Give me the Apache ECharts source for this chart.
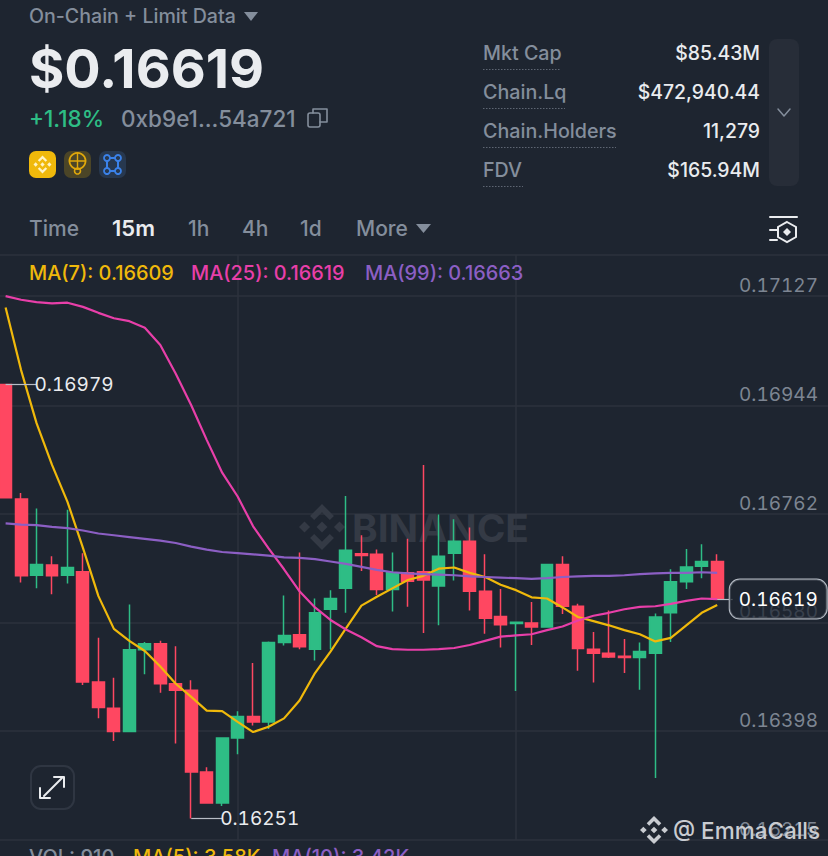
<!DOCTYPE html>
<html><head><meta charset="utf-8">
<style>html,body{margin:0;padding:0;background:#1e2530;overflow:hidden}#c{width:828px;height:856px}#c text{font-feature-settings:"tnum" 1;font-variant-numeric:tabular-nums}</style>
<script src="https://cdn.jsdelivr.net/npm/echarts@6/dist/echarts.min.js"></script>
</head><body><div id="c"></div>
<script>
const opens=[0.16979,0.16787,0.16659,0.16676,0.16659,0.16665,0.16480,0.16436,0.16397,0.16534,0.16544,0.16477,0.16466,0.16329,0.16277,0.16386,0.16422,0.16413,0.16546,0.16559,0.16535,0.16602,0.16637,0.16695,0.16694,0.16635,0.16663,0.16665,0.16641,0.16696,0.16716,0.16632,0.16590,0.16578,0.16579,0.16572,0.16677,0.16607,0.16535,0.16528,0.16523,0.16521,0.16528,0.16596,0.16648,0.16674,0.16682];
const closes=[0.16789,0.16658,0.16677,0.16658,0.16672,0.16480,0.16437,0.16397,0.16534,0.16544,0.16477,0.16466,0.16329,0.16277,0.16386,0.16422,0.16413,0.16546,0.16558,0.16539,0.16596,0.16620,0.16701,0.16692,0.16635,0.16663,0.16649,0.16651,0.16691,0.16716,0.16632,0.16587,0.16576,0.16580,0.16572,0.16677,0.16607,0.16536,0.16528,0.16522,0.16521,0.16531,0.16589,0.16648,0.16673,0.16682,0.16619];
const lows=[0.16789,0.16647,0.16637,0.16627,0.16645,0.16475,0.16419,0.16381,0.16397,0.16493,0.16462,0.16377,0.16251,0.16277,0.16272,0.16359,0.16407,0.16401,0.16541,0.16535,0.16516,0.16535,0.16596,0.16666,0.16626,0.16598,0.16606,0.16562,0.16575,0.16650,0.16600,0.16561,0.16538,0.16465,0.16542,0.16572,0.16594,0.16499,0.16479,0.16520,0.16495,0.16467,0.16319,0.16547,0.16636,0.16654,0.16619];
const highs=[0.16979,0.16797,0.16771,0.16691,0.16769,0.16696,0.16554,0.16487,0.16610,0.16547,0.16549,0.16540,0.16483,0.16337,0.16386,0.16431,0.16512,0.16548,0.16625,0.16697,0.16620,0.16634,0.16792,0.16726,0.16702,0.16697,0.16720,0.16844,0.16761,0.16753,0.16739,0.16694,0.16636,0.16580,0.16614,0.16677,0.16691,0.16611,0.16564,0.16600,0.16552,0.16546,0.16595,0.16669,0.16703,0.16711,0.16694];
const ma7=[0.17108,0.17003,0.16914,0.16844,0.16782,0.16705,0.16624,0.16569,0.16549,0.16532,0.16506,0.16477,0.16455,0.16432,0.16431,0.16413,0.16396,0.16405,0.16419,0.16449,0.16495,0.16531,0.16570,0.16608,0.16623,0.16637,0.16651,0.16658,0.16670,0.16672,0.16663,0.16656,0.16643,0.16634,0.16622,0.16620,0.16605,0.16589,0.16582,0.16575,0.16567,0.16560,0.16548,0.16554,0.16575,0.16596,0.16609];
const ma25=[0.17127,0.17121,0.17117,0.17115,0.17116,0.17109,0.17099,0.17090,0.17085,0.17074,0.17045,0.16997,0.16944,0.16886,0.16831,0.16791,0.16741,0.16704,0.16669,0.16632,0.16605,0.16584,0.16568,0.16555,0.16540,0.16535,0.16534,0.16534,0.16535,0.16537,0.16542,0.16549,0.16556,0.16558,0.16560,0.16567,0.16573,0.16583,0.16591,0.16596,0.16602,0.16606,0.16607,0.16611,0.16616,0.16620,0.16619];
const ma99=[0.16746,0.16744,0.16743,0.16740,0.16738,0.16734,0.16729,0.16726,0.16723,0.16720,0.16717,0.16713,0.16707,0.16702,0.16698,0.16696,0.16694,0.16692,0.16689,0.16688,0.16686,0.16682,0.16678,0.16673,0.16668,0.16664,0.16662,0.16661,0.16660,0.16659,0.16657,0.16656,0.16655,0.16654,0.16653,0.16654,0.16656,0.16657,0.16658,0.16658,0.16659,0.16661,0.16662,0.16663,0.16663,0.16664,0.16663];
const yTicks=[0.16215,0.16398,0.16580,0.16762,0.16944,0.17127];
const verticalLines=[15,33];
const highMark={i:0,end:2,value:0.16979};
const lowMark={i:12,end:14,value:0.16251};
const lastPrice=0.16619;
const stats=[['Mkt Cap','$85.43M',53,77],['Chain.Lq','$472,940.44',92,82],['Chain.Holders','11,279',131,133],['FDV','$165.94M',170,40]];
const tabs=[['Time',29,'#848e9c',500,21],['15m',112,'#eaecef',600,22],['1h',188,'#848e9c',500,21],['4h',242,'#848e9c',500,21],['1d',300,'#848e9c',500,21],['More',356,'#848e9c',500,21]];

const FONT='Inter';
const GRAY='#848e9c',WHITE='#eaecef',RED='#ff4761',GREEN='#2ebd85',YEL='#f0b90b',PINK='#e83fa9',PUR='#8c5fc4',LINE='#2c323d';
function T(x,y,s,fill,size,weight,align,extra){return Object.assign({type:'text',x:x,y:y,z:50,silent:true,style:{text:s,fill:fill,font:(weight||400)+' '+size+'px '+FONT,textAlign:align||'left',textVerticalAlign:'middle'}},extra||{});}
function P(points,fill,z){return {type:'polygon',z:z||50,silent:true,shape:{points:points},style:{fill:fill}};}
function PL(points,stroke,w,z){return {type:'polyline',z:z||50,silent:true,shape:{points:points},style:{stroke:stroke,lineWidth:w,fill:null,lineCap:'round',lineJoin:'round'}};}
function R(x,y,w,h,r,fill,stroke,lw,z){return {type:'rect',z:z||50,silent:true,shape:{x:x,y:y,width:w,height:h,r:r},style:{fill:fill||null,stroke:stroke||null,lineWidth:lw||0}};}
function logo(cx,cy,s,c,z){
  const m=(pts)=>pts.map(p=>[cx+p[0]*s,cy+p[1]*s]);
  const d=(x,y,r)=>m([[x,y-r],[x+r,y],[x,y+r],[x-r,y]]);
  const top=[[0,-1],[.52,-.48],[.34,-.30],[0,-.64],[-.34,-.30],[-.52,-.48]];
  return [P(d(0,0,.24),c,z),P(d(-.76,0,.24),c,z),P(d(.76,0,.24),c,z),P(m(top),c,z),P(m(top.map(p=>[p[0],-p[1]])),c,z)];
}
const g=[];
g.push(T(29,16,'On-Chain + Limit Data',GRAY,19.6,500));
g.push(P([[244,12],[258,12],[251,21]],GRAY));
g.push(T(29,68,'$0.16619','#eaecef',54,700));
g.push(T(29,118,'+1.18%',GREEN,22.5,500));
g.push(T(121,118,'0xb9e1...54a721',GRAY,22.5,500));
g.push(R(308,113,12,14,2,null,GRAY,1.6),PL([[313,113],[313,109],[327,109],[327,122],[320,122]],GRAY,1.6));
g.push(R(29,151,27,27,7,'#f0b90b'),R(64,151,27,27,7,'#4b4527'),R(99,151,27,27,7,'#27384f'));
g.push(...logo(42.5,164.5,9,'#fff3c4'));
g.push({type:'circle',z:50,silent:true,shape:{cx:77.5,cy:161,r:8},style:{fill:null,stroke:'#e0a80b',lineWidth:1.8}},PL([[69.5,161],[85.5,161]],'#e0a80b',1.6),PL([[77.5,153],[77.5,169]],'#e0a80b',1.4),{type:'circle',z:50,silent:true,shape:{cx:77.5,cy:171,r:3},style:{fill:null,stroke:'#e0a80b',lineWidth:1.6}});
g.push(R(107,158,11,13,2,null,'#3b82ea',2));
[[107,158],[118,158],[107,171],[118,171]].forEach(p=>g.push({type:'circle',z:50,silent:true,shape:{cx:p[0],cy:p[1],r:3},style:{fill:'#27384f',stroke:'#3b82ea',lineWidth:1.8}}));
stats.forEach(s=>{
  g.push(T(483,s[2]-0.5,s[0],GRAY,19.7,500));
  g.push(T(760,s[2]-0.5,s[1],WHITE,19.4,500,'right'));
  g.push({type:'line',z:50,silent:true,shape:{x1:483,y1:s[2]+16.5,x2:483+s[3],y2:s[2]+16.5},style:{stroke:'#5e6673',lineWidth:1,lineDash:[1.5,1.5]}});
});
g.push(R(769,39,30,147,8,'#272d38'));
g.push(PL([[778,109],[784,116],[790,109]],GRAY,1.5));
tabs.forEach(t=>g.push(T(t[1],228,t[0],t[2],t[4],t[3])));
g.push(P([[416,224],[431,224],[423.5,233]],GRAY));
g.push(PL([[770,217],[797,217]],WHITE,2),PL([[770,230],[777,230]],WHITE,2),PL([[770,240],[777,240]],WHITE,2));
g.push({type:'polygon',z:50,silent:true,shape:{points:[[787,222],[796,227],[796,237],[787,242],[778,237],[778,227]]},style:{fill:'none',stroke:WHITE,lineWidth:2}});
g.push(P([[787,228],[791,232],[787,236],[783,232]],WHITE));
g.push({type:'line',z:1,silent:true,shape:{x1:0,y1:255,x2:828,y2:255},style:{stroke:LINE,lineWidth:1.5}});
g.push(T(29,273,'MA(7): 0.16609',YEL,19.9,500),T(191,273,'MA(25): 0.16619',PINK,19.9,500),T(365,273,'MA(99): 0.16663',PUR,19.9,500));
g.push(...logo(322,527,23,'#343a45',1));
g.push(T(352,527,'BINANCE','#343a45',38.8,700,'left',{z:1}));
g.push(R(31,766,43,43,10,'#1e2530','#2f3642',2,40));
g.push(PL([[44,796],[62,778]],WHITE,2),PL([[54,777],[64,777],[64,787]],WHITE,2),PL([[40,788],[40,798],[50,798]],WHITE,2));
g.push(T(29,857,'VOL: 910',GRAY,20,500),T(133,857,'MA(5): 3.58K',YEL,20,500),T(272,857,'MA(10): 3.42K',PUR,20,500));
g.push(...logo(654,830,14,'#c9ccd1',60));
g.push(T(673,830,'@ EmmaCalls','#c9ccd1',22.5,500,'left',{z:60}));

const leader={color:'#b7bdc6',width:1.2,type:'solid'};
function valueLabel(c,v){return {coord:[c,v],value:v,symbol:'circle',symbolSize:0,label:{show:true,position:'right',distance:-2,formatter:()=>v.toFixed(5),color:WHITE,fontFamily:FONT,fontSize:19,fontWeight:400}};}
const chart=echarts.init(document.getElementById('c'),null,{renderer:'svg',width:828,height:856});
const maSeries=(name,data,color)=>({name,type:'line',data:data.map((v,i)=>[i,v]),showSymbol:false,symbol:'none',smooth:false,z:5,lineStyle:{color,width:2.2},silent:true});
chart.setOption({
  animation:false,backgroundColor:'#1e2530',
  grid:{left:0,top:255,width:828,height:585,containLabel:false},
  tooltip:{show:false},
  xAxis:{type:'value',min:-0.362,max:53.162,axisLine:{show:false},axisTick:{show:false},axisLabel:{show:false},splitLine:{show:false}},
  yAxis:{type:'value',position:'right',min:0.16215,max:0.17196,scale:true,
    axisLine:{show:false},
    axisTick:{show:false,customValues:yTicks},
    axisLabel:{inside:true,margin:10,customValues:yTicks,formatter:v=>v.toFixed(5),color:'#7d8592',fontFamily:FONT,fontSize:19,verticalAlign:'bottom',padding:[0,0,1,0]},
    splitLine:{show:true,lineStyle:{color:LINE,width:1.5}}},
  graphic:{elements:g},
  series:[
    {name:'grid',type:'line',data:[],z:0,silent:true,markLine:{silent:true,symbol:'none',z:0,animation:false,label:{show:false},lineStyle:{color:LINE,width:1.5,type:'solid'},data:verticalLines.map(v=>({xAxis:v}))}},
    {name:'price',type:'candlestick',z:3,barWidth:12.4,
      encode:{x:0,y:[1,2,3,4]},
      data:opens.map((o,i)=>[i,o,closes[i],lows[i],highs[i]]),
      itemStyle:{color:GREEN,color0:RED,borderColor:GREEN,borderColor0:RED,borderWidth:1.5},
      markLine:{silent:true,symbol:'none',animation:false,z:6,label:{show:false},lineStyle:leader,data:[
        [{coord:[highMark.i,highMark.value]},{coord:[highMark.end,highMark.value]}],
        [{coord:[lowMark.i,lowMark.value]},{coord:[lowMark.end,lowMark.value]}],
        [{coord:[46,lastPrice]},{coord:[47,lastPrice]}]
      ]},
      markPoint:{silent:true,animation:false,z:20,data:[
        valueLabel(highMark.end,highMark.value),
        valueLabel(lowMark.end,lowMark.value),
        {coord:[46,lastPrice],symbol:'circle',symbolSize:0,label:{show:true,position:'right',distance:12.5,formatter:()=>lastPrice.toFixed(5),color:'#ffffff',fontFamily:FONT,fontSize:19,width:79,align:'left',backgroundColor:'rgba(30,37,48,0.72)',borderColor:'#b7bdc6',borderWidth:1,borderRadius:10,padding:[10,9,10,9]}}
      ]}},
    maSeries('MA7',ma7,YEL),maSeries('MA25',ma25,PINK),maSeries('MA99',ma99,PUR)
  ]
});
</script></body></html>
